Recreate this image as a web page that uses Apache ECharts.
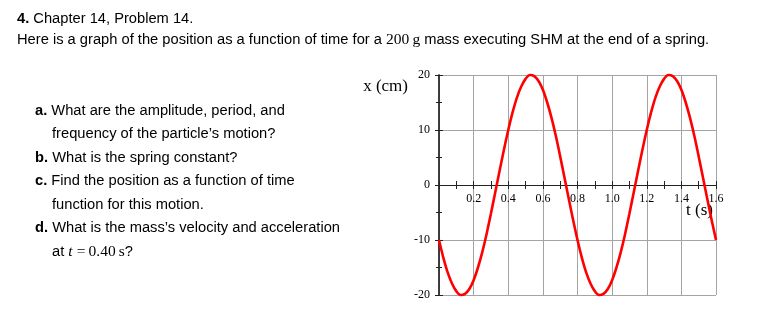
<!DOCTYPE html>
<html>
<head>
<meta charset="utf-8">
<script src="https://cdn.jsdelivr.net/npm/echarts@6/dist/echarts.min.js"></script>
<style>
  html, body { margin: 0; padding: 0; background: #fff; }
  #chart { width: 784px; height: 323px; }
</style>
</head>
<body>
<div id="chart"></div>
<script>
// Time samples (s) and position of the oscillating mass (cm)
const times = [
  0, 0.025, 0.05, 0.075, 0.1, 0.125, 0.15, 0.175, 0.2, 0.225, 0.25, 0.275,
  0.3, 0.325, 0.35, 0.375, 0.4, 0.425, 0.45, 0.475, 0.5, 0.525, 0.55, 0.575,
  0.6, 0.625, 0.65, 0.675, 0.7, 0.725, 0.75, 0.775, 0.8, 0.825, 0.85, 0.875,
  0.9, 0.925, 0.95, 0.975, 1.0, 1.025, 1.05, 1.075, 1.1, 1.125, 1.15, 1.175,
  1.2, 1.225, 1.25, 1.275, 1.3, 1.325, 1.35, 1.375, 1.4, 1.425, 1.45, 1.475,
  1.5, 1.525, 1.55, 1.575, 1.6
];
const positions = [
  -10.0, -13.2, -15.9, -17.9, -19.3, -20.0, -19.8, -18.9, -17.3, -15.0, -12.2, -8.9,
  -5.2, -1.3, 2.6, 6.4, 10.0, 13.2, 15.9, 17.9, 19.3, 20.0, 19.8, 18.9,
  17.3, 15.0, 12.2, 8.9, 5.2, 1.3, -2.6, -6.4, -10.0, -13.2, -15.9, -17.9,
  -19.3, -20.0, -19.8, -18.9, -17.3, -15.0, -12.2, -8.9, -5.2, -1.3, 2.6, 6.4,
  10.0, 13.2, 15.9, 17.9, 19.3, 20.0, 19.8, 18.9, 17.3, 15.0, 12.2, 8.9,
  5.2, 1.3, -2.6, -6.4, -10.0
];
// Axis ranges and tick steps
const tRange = [0, 1.6];
const tStep = 0.2;
const xRange = [-20, 20];
const xStep = 10;

const headerLines = [
  '{b|4.} Chapter 14, Problem 14.',
  'Here is a graph of the position as a function of time for a {s|200\u2009g} mass executing SHM at the end of a spring.'
];
const questionLines = [
  { text: '{b|a.} What are the amplitude, period, and', indent: false },
  { text: 'frequency of the particle\u2019s motion?', indent: true },
  { text: '{b|b.} What is the spring constant?', indent: false },
  { text: '{b|c.} Find the position as a function of time', indent: false },
  { text: 'function for this motion.', indent: true },
  { text: '{b|d.} What is the mass\u2019s velocity and acceleration', indent: false },
  { text: 'at {i|t} {s|=\u20090.40\u2009s}?', indent: true }
];

const sans = 'Liberation Sans, Arial, sans-serif';
const serif = 'Liberation Serif, Times New Roman, serif';
const textSize = 14.7;
const richStyles = {
  b: { fontFamily: sans, fontSize: textSize, fontWeight: 'bold', fill: '#000' },
  s: { fontFamily: serif, fontSize: 15.5, fill: '#000' },
  i: { fontFamily: serif, fontSize: 15.5, fontStyle: 'italic', fill: '#000' }
};

const graphics = [];
const headerY = [19, 40];
headerLines.forEach((line, k) => {
  graphics.push({
    type: 'text', x: 17, y: headerY[k],
    style: { text: line, font: textSize + 'px ' + sans, fill: '#000', verticalAlign: 'middle', rich: richStyles }
  });
});
const qY = [111, 134, 158, 181, 205, 228, 252];
questionLines.forEach((q, k) => {
  graphics.push({
    type: 'text', x: q.indent ? 52 : 35, y: qY[k],
    style: { text: q.text, font: textSize + 'px ' + sans, fill: '#000', verticalAlign: 'middle', rich: richStyles }
  });
});
// Axis titles
graphics.push({
  type: 'text', x: 408, y: 87,
  style: { text: 'x (cm)', font: '17px ' + serif, fill: '#000', align: 'right', verticalAlign: 'middle' }
});
graphics.push({
  type: 'text', x: 686, y: 211, z: 1,
  style: { text: 't (s)', font: '17px ' + serif, fill: '#000', align: 'left', verticalAlign: 'middle' }
});

const numLabel = { fontFamily: serif, fontSize: 12, color: '#000' };
const tickStyle = { color: '#222', width: 1 };
const gridColor = '#a4a4a4';
// the time axis runs through x = 0, halfway up the plot
const gridHeight = 220;
const zeroOffset = -gridHeight / 2;

const option = {
  animation: false,
  backgroundColor: '#fff',
  grid: { left: 439, top: 75, width: 277, height: gridHeight, containLabel: false },
  graphic: graphics,
  xAxis: [
    {
      type: 'value', min: tRange[0], max: tRange[1], interval: tStep,
      position: 'bottom', offset: zeroOffset,
      axisLine: { onZero: false, lineStyle: { color: '#222', width: 1 } },
      axisTick: { show: true, inside: false, length: 4, lineStyle: tickStyle },
      minorTick: { show: true, splitNumber: 2, length: 4, lineStyle: tickStyle },
      axisLabel: Object.assign({ margin: 8, formatter: v => (v === 0 ? '' : v.toFixed(1)) }, numLabel),
      splitLine: { show: true, lineStyle: { color: gridColor, width: 1 } }
    },
    {
      type: 'value', min: tRange[0], max: tRange[1], interval: tStep,
      position: 'bottom', offset: zeroOffset,
      axisLine: { onZero: false, lineStyle: { color: '#222', width: 1 } },
      axisTick: { show: true, inside: true, length: 4, lineStyle: tickStyle },
      minorTick: { show: true, splitNumber: 2, length: 4, lineStyle: tickStyle },
      axisLabel: { show: false },
      splitLine: { show: false }
    }
  ],
  yAxis: [
    {
      type: 'value', min: xRange[0], max: xRange[1], interval: xStep, position: 'left',
      axisLine: { onZero: false, lineStyle: { color: '#333', width: 1.5 } },
      axisTick: { show: true, inside: false, length: 4, lineStyle: tickStyle },
      minorTick: { show: true, splitNumber: 2, length: 3, lineStyle: tickStyle },
      axisLabel: Object.assign({ margin: 9 }, numLabel),
      splitLine: { show: true, lineStyle: { color: gridColor, width: 1 } }
    },
    {
      type: 'value', min: xRange[0], max: xRange[1], interval: xStep, position: 'left',
      axisLine: { onZero: false, lineStyle: { color: '#333', width: 1.5 } },
      axisTick: { show: true, inside: true, length: 4, lineStyle: tickStyle },
      minorTick: { show: true, splitNumber: 2, length: 3, lineStyle: tickStyle },
      axisLabel: { show: false },
      splitLine: { show: false }
    }
  ],
  series: [
    {
      type: 'line',
      xAxisIndex: 0, yAxisIndex: 0,
      data: times.map((t, k) => [t, positions[k]]),
      smooth: 0.3,
      showSymbol: false,
      clip: false,
      z: 3,
      lineStyle: { color: '#ff0000', width: 2.6 }
    }
  ]
};

const chart = echarts.init(document.getElementById('chart'), null, { renderer: 'canvas' });
chart.setOption(option);
</script>
</body>
</html>
